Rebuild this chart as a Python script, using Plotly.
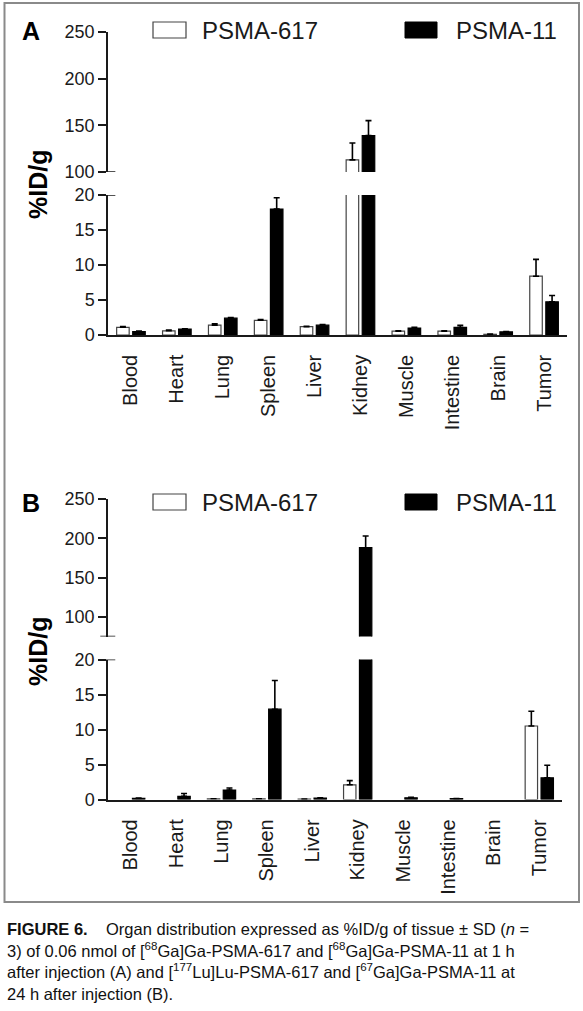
import plotly.graph_objs as go

# organs on the x axis
organs = ["Blood", "Heart", "Lung", "Spleen", "Liver", "Kidney",
          "Muscle", "Intestine", "Brain", "Tumor"]
series = ["PSMA-617", "PSMA-11"]

# panel A: 1 h p.i. (%ID/g, mean and SD)
a_617 = [1.1, 0.6, 1.4, 2.1, 1.2, 113, 0.55, 0.55, 0.1, 8.4]
a_617_sd = [0.1, 0.1, 0.2, 0.1, 0.05, 18, 0.05, 0.05, 0.02, 2.4]
a_11 = [0.5, 0.85, 2.4, 18.0, 1.4, 139, 1.0, 1.1, 0.45, 4.75]
a_11_sd = [0.05, 0.05, 0.1, 1.6, 0.1, 16, 0.1, 0.3, 0.05, 0.9]

# panel B: 24 h p.i. (0 = nothing visible in the figure)
b_617 = [0, 0, 0.1, 0.1, 0.05, 2.1, 0, 0, 0, 10.5]
b_617_sd = [0, 0, 0, 0, 0, 0.6, 0, 0, 0, 2.1]
b_11 = [0.15, 0.45, 1.35, 12.9, 0.2, 188, 0.25, 0.12, 0, 3.1]
b_11_sd = [0.05, 0.4, 0.3, 4.1, 0.05, 15, 0.05, 0.03, 0, 1.8]

low_ticks = [0, 5, 10, 15, 20]
up_ticks = [100, 150, 200, 250]

W, H = 583, 1011
FONT = "Liberation Sans, Arial, sans-serif"
INK = "#1a1a1a"


def px(x):
    return x / W


def py(y):
    return 1 - y / H


def bars(name, vals, sd, xa, ya, white):
    return go.Bar(
        x=organs, y=[v if v else None for v in vals], name=name,
        xaxis=xa, yaxis=ya, offsetgroup=name, showlegend=False,
        hoverinfo="skip",
        marker=dict(color="white" if white else "black",
                    line=dict(color="#444" if white else "black", width=1.2)),
        error_y=dict(type="data", symmetric=False, array=sd,
                     arrayminus=[0] * len(sd), color="black",
                     thickness=1.6, width=3),
    )


fig = go.Figure()
for ya in ["y", "y2"]:
    fig.add_trace(bars(series[0], a_617, a_617_sd, "x", ya, True))
    fig.add_trace(bars(series[1], a_11, a_11_sd, "x", ya, False))
for ya in ["y3", "y4"]:
    fig.add_trace(bars(series[0], b_617, b_617_sd, "x2", ya, True))
    fig.add_trace(bars(series[1], b_11, b_11_sd, "x2", ya, False))

yax = dict(showgrid=False, zeroline=False, showline=True, linewidth=1.5,
           linecolor=INK, ticks="outside", ticklen=8, tickwidth=1.5,
           tickcolor=INK, tickfont=dict(size=18, color=INK, family=FONT),
           fixedrange=True, automargin=False)
xax = dict(showgrid=False, zeroline=False, showline=True, linewidth=1.5,
           linecolor=INK, ticks="", tickangle=-90, ticklabelstandoff=10,
           tickfont=dict(size=20, color=INK, family=FONT), fixedrange=True,
           automargin=False)

fig.update_layout(
    width=W, height=H,
    margin=dict(l=0, r=0, t=0, b=0, autoexpand=False),
    paper_bgcolor="white", plot_bgcolor="white",
    barmode="group", bargap=0.3, bargroupgap=0.22,
    font=dict(family=FONT, color=INK),
    xaxis=dict(xax, domain=[px(108), px(567)], anchor="y"),
    xaxis2=dict(xax, domain=[px(108), px(562)], anchor="y3"),
    yaxis=dict(yax, domain=[py(335), py(195)], range=[0, 20],
               tickvals=low_ticks, anchor="x"),
    yaxis2=dict(yax, domain=[py(172), py(32)], range=[100, 250],
                tickvals=up_ticks, anchor="x"),
    yaxis3=dict(yax, domain=[py(799.5), py(659.5)], range=[0, 20],
                tickvals=low_ticks, anchor="x2"),
    yaxis4=dict(yax, domain=[py(636.5), py(499)], range=[75, 250],
                tickvals=up_ticks, anchor="x2"),
)

shapes = []
# outer frame around both panels
shapes.append(dict(type="rect", xref="paper", yref="paper",
                   x0=px(4.5), x1=px(579), y0=py(902), y1=py(3),
                   line=dict(color="#8a8a8a", width=2)))
# axis break marks
for xr, yr, yv in [("x", "y2", 100), ("x", "y", 20),
                   ("x2", "y4", 75), ("x2", "y3", 20)]:
    shapes.append(dict(type="line", xref=xr + " domain", yref=yr,
                       x0=-0.017, x1=0.016, y0=yv, y1=yv,
                       line=dict(color=INK, width=1.5)))

annotations = []
for top, letter in [(22, "A"), (494, "B")]:
    # legend keys
    shapes.append(dict(type="rect", xref="paper", yref="paper",
                       x0=px(153), x1=px(186), y0=py(top + 16), y1=py(top),
                       fillcolor="white", line=dict(color="#444", width=1.2)))
    shapes.append(dict(type="rect", xref="paper", yref="paper",
                       x0=px(405), x1=px(437), y0=py(top + 16), y1=py(top),
                       fillcolor="black", line=dict(color="black", width=1)))
    for xt, name in [(200, series[0]), (454, series[1])]:
        annotations.append(dict(text=name, xref="paper", yref="paper",
                                x=px(xt), y=py(top + 8), xanchor="left",
                                yanchor="middle", showarrow=False,
                                font=dict(size=24, color=INK, family=FONT)))
    annotations.append(dict(text="<b>" + letter + "</b>", xref="paper",
                            yref="paper", x=px(31), y=py(top + 9),
                            xanchor="center", yanchor="middle",
                            showarrow=False,
                            font=dict(size=25, color="black", family=FONT)))

# y axis titles
for yc in [185, 652]:
    annotations.append(dict(text="<b>%ID/g</b>", xref="paper", yref="paper",
                            x=px(38), y=py(yc), textangle=-90,
                            xanchor="center", yanchor="middle",
                            showarrow=False,
                            font=dict(size=25, color="black", family=FONT)))

# figure caption
caption = [
    "<b>FIGURE 6.</b>\u00a0\u00a0\u00a0 Organ distribution expressed as %ID/g of tissue ± SD (<i>n</i> =",
    "3) of 0.06 nmol of [<sup>68</sup>Ga]Ga-PSMA-617 and [<sup>68</sup>Ga]Ga-PSMA-11 at 1 h",
    "after injection (A) and [<sup>177</sup>Lu]Lu-PSMA-617 and [<sup>67</sup>Ga]Ga-PSMA-11 at",
    "24 h after injection (B).",
]
for i, line in enumerate(caption):
    annotations.append(dict(text=line, xref="paper", yref="paper",
                            x=px(5), y=py(940 + i * 21.6), xanchor="left",
                            yanchor="bottom", showarrow=False,
                            font=dict(size=16.5, color="#111", family=FONT)))

fig.update_layout(shapes=shapes, annotations=annotations)

# drop the page's default 8px body margin so the figure sits at (0, 0)
fig.write_html("out.html", config={"displayModeBar": False},
               post_script="document.body.style.margin = '0';")
